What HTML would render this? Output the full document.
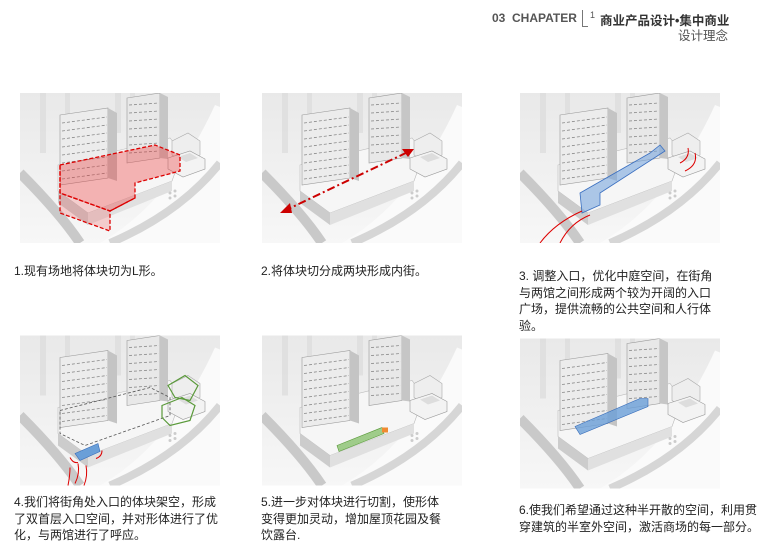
<!DOCTYPE html>
<html><head><meta charset="utf-8">
<style>
body{margin:0;width:760px;height:540px;background:#fff;position:relative;overflow:hidden;font-family:"Liberation Sans","Noto Sans CJK SC",sans-serif;color:#222}
.t{position:absolute;font-size:12px;line-height:16.5px}
svg.p{position:absolute}
</style></head><body>
<svg width="0" height="0" style="position:absolute">
<defs>
<linearGradient id="fade" x1="0" y1="0" x2="0" y2="1"><stop offset="0" stop-color="#e9e9e9"/><stop offset="1" stop-color="#f7f7f7"/></linearGradient>
<symbol id="scene" viewBox="0 0 200 150">
<rect width="200" height="150" fill="url(#fade)"/>
<g fill="#dcdcdc" opacity=".7">
<rect x="20" y="0" width="6" height="60"/><rect x="45" y="0" width="5" height="45"/><rect x="95" y="0" width="6" height="40"/><rect x="110" y="0" width="5" height="30"/>
</g>
<path d="M195 12 L200 14 L200 150 L80 150 Q150 110 195 12Z" fill="#fafafa"/>
<path d="M0 80 Q40 120 60 150" stroke="#c9c9c9" stroke-width="10" fill="none"/>
<path d="M90 150 Q160 120 200 70" stroke="#d6d6d6" stroke-width="8" fill="none"/>
<polygon points="38,72 150,45 162,60 152,88 68,120 38,98" fill="#f6f6f6" stroke="#bbb" stroke-width=".6"/>
<polygon points="38,98 68,120 68,132 38,110" fill="#ccc"/>
<polygon points="68,120 152,88 152,98 68,132" fill="#e0e0e0"/>
<polygon points="107,5 140,0 140,65 107,70" fill="#e8e8e8" stroke="#999" stroke-width=".6"/>
<polygon points="140,0 148,4 148,66 140,65" fill="#c6c6c6"/>
<g stroke="#888" stroke-width=".8" stroke-dasharray="3 2"><line x1="109" y1="12" x2="139" y2="10"/><line x1="109" y1="20" x2="139" y2="18"/><line x1="109" y1="28" x2="139" y2="26"/><line x1="109" y1="36" x2="139" y2="34"/><line x1="109" y1="44" x2="139" y2="42"/><line x1="109" y1="52" x2="139" y2="50"/><line x1="109" y1="60" x2="139" y2="58"/></g>
<polygon points="40,22 88,15 88,85 40,92" fill="#ececec" stroke="#999" stroke-width=".6"/>
<polygon points="88,15 97,20 97,88 88,85" fill="#c4c4c4"/>
<g stroke="#888" stroke-width=".8" stroke-dasharray="3 2"><line x1="42" y1="30" x2="87" y2="24"/><line x1="42" y1="38" x2="87" y2="32"/><line x1="42" y1="46" x2="87" y2="40"/><line x1="42" y1="54" x2="87" y2="48"/><line x1="42" y1="62" x2="87" y2="56"/><line x1="42" y1="70" x2="87" y2="64"/><line x1="42" y1="78" x2="87" y2="72"/><line x1="42" y1="86" x2="87" y2="80"/></g>
<polygon points="152,48 168,40 180,48 180,62 164,70 152,62" fill="#eee" stroke="#aaa" stroke-width=".6"/>
<polygon points="148,65 170,58 185,66 185,76 163,84 148,76" fill="#f3f3f3" stroke="#999" stroke-width=".6"/>
<polygon points="158,64 170,60 178,65 166,69" fill="#ddd"/>
<g fill="#ccc"><circle cx="150" cy="100" r="1.5"/><circle cx="155" cy="98" r="1.5"/><circle cx="150" cy="105" r="1.5"/><circle cx="155" cy="103" r="1.5"/></g>
</symbol>
</defs></svg>

<div style="position:absolute;left:492px;top:11px;font-size:12px;font-weight:bold;color:#555">03&nbsp; CHAPATER</div>
<div style="position:absolute;left:582px;top:10px;width:5px;height:16px;border-left:1px solid #777;border-bottom:1px solid #777"></div>
<div style="position:absolute;left:590px;top:10px;font-size:9px;color:#555">1</div>
<div style="position:absolute;left:600px;top:10px;font-size:12.5px;font-weight:bold;color:#333">商业产品设计•集中商业</div>
<div style="position:absolute;left:678px;top:25px;font-size:12.5px;color:#555">设计理念</div>

<svg class="p" style="left:20px;top:93px" width="200" height="150" viewBox="0 0 200 150"><use href="#scene"/>
<polygon points="40,72 135,52 160,62 160,78 115,90 115,105 90,118 40,100" fill="#e33" fill-opacity=".35" stroke="#d00" stroke-width="1.3" stroke-dasharray="4 2"/>
<polyline points="40,72 40,100 90,118 90,138 40,120 40,100" fill="#e55" fill-opacity=".25" stroke="#d00" stroke-width="1.3" stroke-dasharray="4 2"/>
<line x1="90" y1="118" x2="115" y2="105" stroke="#d00" stroke-width="1.3" stroke-dasharray="4 2"/>
</svg>
<svg class="p" style="left:262px;top:93px" width="200" height="150" viewBox="0 0 200 150"><use href="#scene"/>
<line x1="22" y1="118" x2="148" y2="58" stroke="#c00" stroke-width="2" stroke-dasharray="8 3 2 3"/>
<polygon points="18,120 28,110 30,120" fill="#c00"/><polygon points="152,56 140,56 146,64" fill="#c00"/>
</svg>
<svg class="p" style="left:520px;top:93px" width="200" height="150" viewBox="0 0 200 150"><use href="#scene"/>
<polygon points="60,100 130,60 140,52 145,58 80,100 80,112 62,120" fill="#7aa7de" fill-opacity=".6" stroke="#3a6fc0" stroke-width=".8"/>
<path d="M20 150 Q35 130 62 118 M40 150 Q50 130 70 122 M160 70 Q170 65 168 55 M165 78 Q178 72 175 60" stroke="#d00" fill="none" stroke-width="1"/>
</svg>

<div class="t" style="left:14px;top:263px">1.现有场地将体块切为L形。</div>
<div class="t" style="left:261px;top:263px">2.将体块切分成两块形成内街。</div>
<div class="t" style="left:519px;top:268px;width:200px">3. 调整入口，优化中庭空间，在街角与两馆之间形成两个较为开阔的入口广场，提供流畅的公共空间和人行体验。</div>

<svg class="p" style="left:20px;top:333px" width="200" height="155" viewBox="0 0 200 150"><use href="#scene"/>
<polygon points="40,75 130,52 150,62 150,80 65,110 40,98" fill="none" stroke="#555" stroke-width=".8" stroke-dasharray="3 2"/>
<polygon points="148,50 165,40 178,50 170,65 155,62" fill="none" stroke="#5a9a3a" stroke-width="1.2"/>
<polygon points="142,70 162,62 175,70 170,85 150,90 142,82" fill="none" stroke="#5a9a3a" stroke-width="1.2"/>
<polygon points="55,118 78,108 80,116 60,125" fill="#6a9fd8" stroke="#346ab8" stroke-width=".6"/>
<path d="M50 122 q3 6 8 5 M82 115 q0 6 -6 8 M55 148 Q60 138 58 128 M48 150 Q50 140 50 132 M64 150 Q68 140 66 130" stroke="#d00" fill="none" stroke-width="1"/>
</svg>
<svg class="p" style="left:262px;top:333px" width="200" height="155" viewBox="0 0 200 150"><use href="#scene"/>
<polygon points="75,110 120,92 122,98 77,116" fill="#9fcc8a" stroke="#5a9a3a" stroke-width=".6"/>
<rect x="120" y="92" width="6" height="5" fill="#f08a30"/>
</svg>
<svg class="p" style="left:520px;top:336px" width="200" height="155" viewBox="0 0 200 150"><use href="#scene"/>
<polygon points="55,88 120,60 128,60 128,68 60,96" fill="#6a9fd8" fill-opacity=".8" stroke="#346ab8" stroke-width=".6"/>
</svg>

<div class="t" style="left:14px;top:494px;width:210px">4.我们将街角处入口的体块架空，形成了双首层入口空间，并对形体进行了优化，与两馆进行了呼应。</div>
<div class="t" style="left:261px;top:494px;width:182px">5.进一步对体块进行切割，使形体变得更加灵动，增加屋顶花园及餐饮露台.</div>
<div class="t" style="left:519px;top:502px;width:240px">6.使我们希望通过这种半开散的空间，利用贯穿建筑的半室外空间，激活商场的每一部分。</div>
</body></html>
